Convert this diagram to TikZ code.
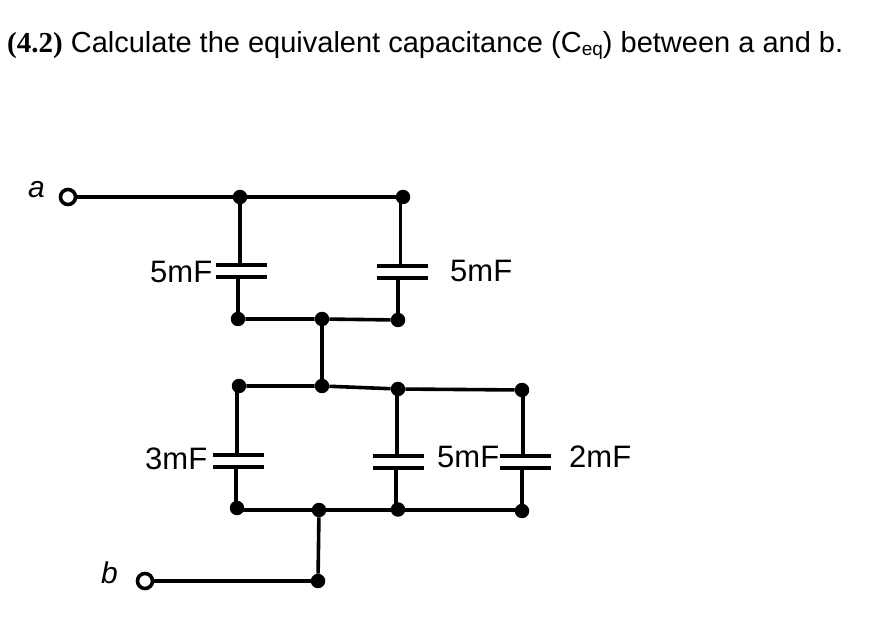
\documentclass[tikz,border=0pt]{standalone}
\usepackage{fontspec}
\setmainfont{Liberation Sans}
\newfontfamily\serifb{Liberation Serif}
\tikzset{
  wire/.style={line width=3.6pt},
  plate/.style={line width=3.6pt},
  jn/.style={circle,fill=black,inner sep=0pt,minimum size=14.5pt},
  term/.style={circle,draw=black,fill=white,line width=3.6pt,inner sep=0pt,minimum size=15pt},
  lbl/.style={inner sep=0pt,font=\fontsize{31pt}{33pt}\selectfont},
  ital/.style={inner sep=0pt,font=\fontsize{30pt}{32pt}\selectfont\itshape},
}
\begin{document}
\begin{tikzpicture}[x=1pt,y=-1pt]
\useasboundingbox (0,0) rectangle (876,636);
\fill[white] (0,0) rectangle (876,636);
\node[anchor=west,inner sep=0pt,font=\fontsize{29pt}{32pt}\selectfont] (title) at (7,45) {{\serifb\bfseries (4.2)} Calculate the equivalent capacitance (C\raisebox{-3pt}{\fontsize{19pt}{20pt}\selectfont eq}) between a and b.};
% plate centres
\coordinate (c1t) at (241,265);\coordinate (c1b) at (241,277);
\coordinate (c2t) at (402,266);\coordinate (c2b) at (402,278);
\coordinate (c3t) at (238.5,455);\coordinate (c3b) at (238.5,467);
\coordinate (c4t) at (398.5,456);\coordinate (c4b) at (398.5,468);
\coordinate (c5t) at (525,456);\coordinate (c5b) at (525,468);
% junctions
\node[jn] (n1) at (240,197) {};
\node[jn] (n2) at (403,197) {};
\node[jn] (n3) at (238,319) {};
\node[jn] (n4) at (322,319) {};
\node[jn] (n5) at (398,320) {};
\node[jn] (n6) at (239,386) {};
\node[jn] (n7) at (322,386) {};
\node[jn] (n8) at (398,389) {};
\node[jn] (n9) at (522,390) {};
\node[jn] (n10) at (237,508) {};
\node[jn] (n11) at (319,510) {};
\node[jn] (n12) at (398,509.5) {};
\node[jn] (n13) at (522,511) {};
\node[jn] (n14) at (318,581) {};
% wires
\draw[wire] (n1) -- (n2);
\draw[wire] (n1.center) -- (240,265);
\draw[wire] (238,277) -- (n3.center);
\draw[wire] (400.5,197) -- (400.5,266);
\draw[wire] (398,278) -- (n5.center);
\draw[wire] (n3) -- (n4) -- (n5);
\draw[wire] (n4) -- (n7);
\draw[wire] (n6) -- (n7) -- (n8) -- (n9);
\draw[wire] (237,386) -- (237,455);
\draw[wire] (236,467) -- (236,507);
\draw[wire] (397,389) -- (397,456);
\draw[wire] (396,468) -- (396,509);
\draw[wire] (523,390) -- (523,456);
\draw[wire] (522,468) -- (n13.center);
\draw[wire] (237,510) -- (522,510);
\draw[wire] (n11) -- (n14);
% plates
\foreach \c in {c1t,c1b,c2t,c2b,c3t,c3b,c4t,c4b,c5t,c5b}{
  \draw[plate] ([xshift=-25.5pt]\c) -- ([xshift=25.5pt]\c);
}
% terminals
\node[term] (a) at (68,197) {};
\node[term] (b) at (145,581) {};
\draw[wire] (a) -- (n1);
\draw[wire] (b) -- (n14);
% labels
\node[ital,anchor=west] (la) at (28,190) {a};
\node[ital,anchor=west] (lb) at (101,573) {b};
\node[lbl,anchor=west] (t1) at (150,272) {5mF};
\node[lbl,anchor=west] (t2) at (450,271) {5mF};
\node[lbl,anchor=west] (t3) at (145,459) {3mF};
\node[lbl,anchor=west] (t4) at (437,457) {5mF};
\node[lbl,anchor=west] (t5) at (569,457) {2mF};
\end{tikzpicture}
\end{document}
